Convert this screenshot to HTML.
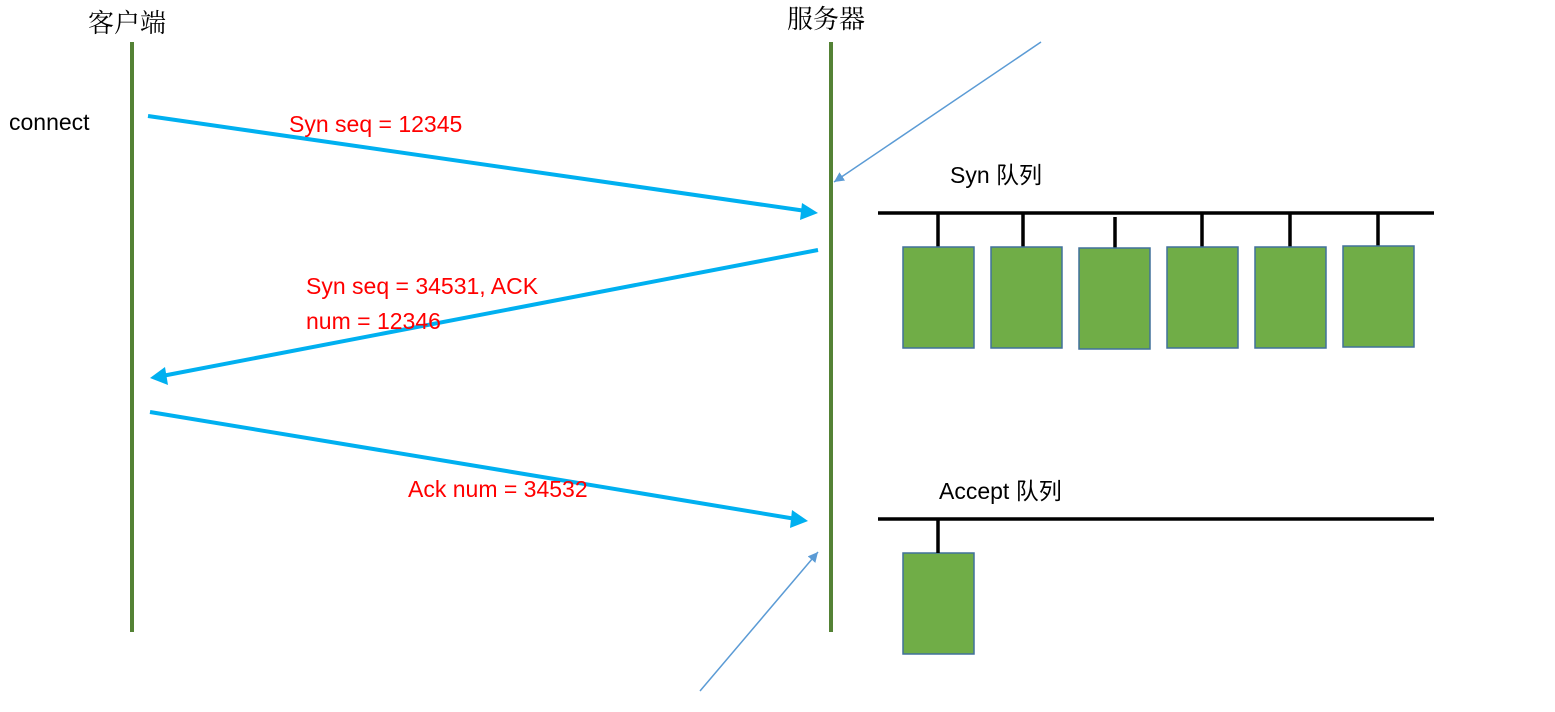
<!DOCTYPE html>
<html><head><meta charset="utf-8"><style>
html,body{margin:0;padding:0;background:#fff;}
svg{display:block;}
.cn{font-family:"Liberation Serif","Noto Serif CJK SC",serif;font-size:26px;fill:#000;}
.t{font-family:"Liberation Sans","Noto Sans CJK SC",sans-serif;font-size:23px;}
.r{fill:#ff0000;}
</style></head><body>
<svg width="1555" height="712" viewBox="0 0 1555 712" xmlns="http://www.w3.org/2000/svg">
<defs>
<marker id="a" markerWidth="10" markerHeight="10" refX="8" refY="5" orient="auto" markerUnits="userSpaceOnUse">
<path d="M0,0 L10,5 L0,10 L2,5 Z" fill="#00b0f0" transform="scale(1.4) translate(-2.5,-1.5)"/></marker>
<marker id="b" markerWidth="12" markerHeight="12" refX="10" refY="5" orient="auto" markerUnits="userSpaceOnUse">
<path d="M0,0 L10,5 L0,10 Z" fill="#5b9bd5"/></marker>
</defs>
<rect width="1555" height="712" fill="#fff"/>
<text class="cn" x="88" y="32">客户端</text>
<text class="cn" x="787" y="28">服务器</text>
<line x1="132" y1="42" x2="132" y2="632" stroke="#548235" stroke-width="4"/>
<line x1="831" y1="42" x2="831" y2="632" stroke="#548235" stroke-width="4"/>
<text class="t" x="9" y="130">connect</text>
<line x1="148" y1="116" x2="806" y2="211" stroke="#00b0f0" stroke-width="4"/>
<polygon points="818,213 802,203 800,220" fill="#00b0f0"/>
<line x1="818" y1="250" x2="162" y2="376" stroke="#00b0f0" stroke-width="4"/>
<polygon points="150,378 165,367 168,385" fill="#00b0f0"/>
<line x1="150" y1="412" x2="796" y2="519" stroke="#00b0f0" stroke-width="4"/>
<polygon points="808,521 792,510 790,528" fill="#00b0f0"/>
<text class="t r" x="289" y="132">Syn seq = 12345</text>
<text class="t r" x="306" y="294">Syn seq = 34531, ACK</text>
<text class="t r" x="306" y="329">num = 12346</text>
<text class="t r" x="408" y="497">Ack num = 34532</text>
<line x1="1041" y1="42" x2="834" y2="182" stroke="#5b9bd5" stroke-width="1.5" marker-end="url(#b)"/>
<line x1="700" y1="691" x2="818" y2="552" stroke="#5b9bd5" stroke-width="1.5" marker-end="url(#b)"/>
<text class="t" x="950" y="183">Syn 队列</text>
<line x1="878" y1="213" x2="1434" y2="213" stroke="#000" stroke-width="3.5"/>
<g stroke="#000" stroke-width="3.5">
<line x1="938" y1="213" x2="938" y2="247"/><line x1="1023" y1="213" x2="1023" y2="250"/>
<line x1="1115" y1="217" x2="1115" y2="248"/><line x1="1202" y1="213" x2="1202" y2="247"/>
<line x1="1290" y1="213" x2="1290" y2="247"/><line x1="1378" y1="213" x2="1378" y2="246"/>
</g>
<g fill="#70ad47" stroke="#41719c" stroke-width="1.5">
<rect x="903" y="247" width="71" height="101"/><rect x="991" y="247" width="71" height="101"/>
<rect x="1079" y="248" width="71" height="101"/><rect x="1167" y="247" width="71" height="101"/>
<rect x="1255" y="247" width="71" height="101"/><rect x="1343" y="246" width="71" height="101"/>
<rect x="903" y="553" width="71" height="101"/>
</g>
<text class="t" x="939" y="499">Accept 队列</text>
<line x1="878" y1="519" x2="1434" y2="519" stroke="#000" stroke-width="3.5"/>
<line x1="938" y1="519" x2="938" y2="553" stroke="#000" stroke-width="3.5"/>
</svg>
</body></html>
